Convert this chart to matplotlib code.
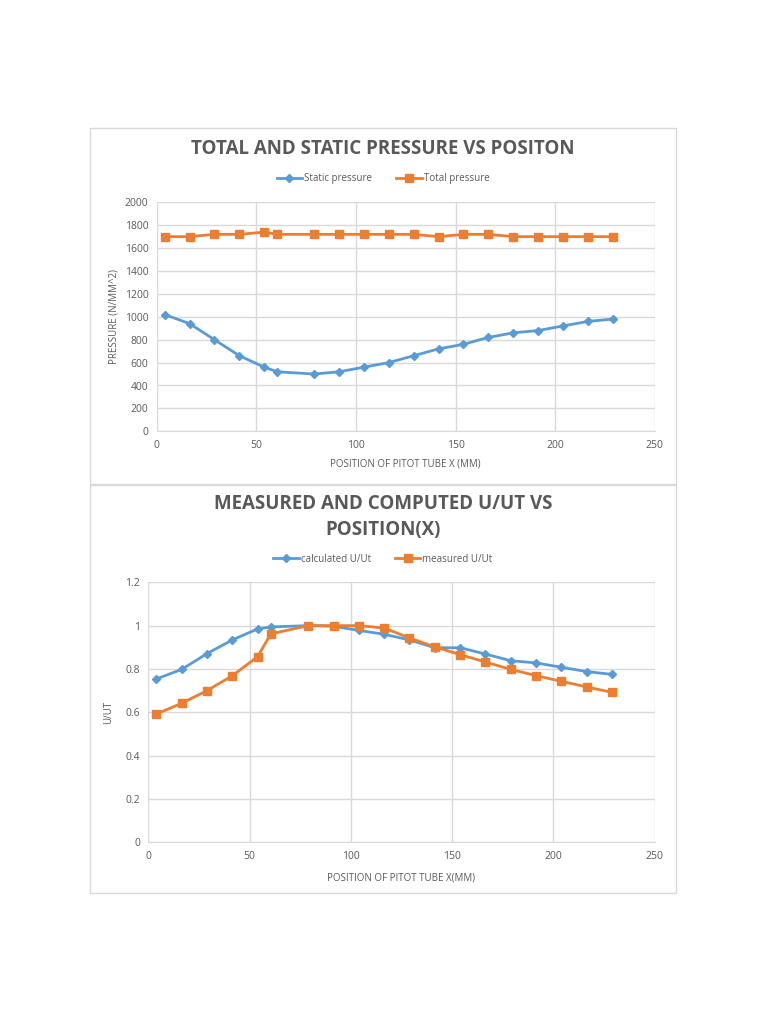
import matplotlib
matplotlib.use('Agg')
from matplotlib import pyplot as plt
from matplotlib.patches import Rectangle

# Position of pitot tube (mm)
position = [4, 16.5, 29, 41.5, 54, 60.5, 79, 91.5, 104, 116.5,
            129, 141.5, 154, 166.5, 179, 191.5, 204, 216.5, 229]

# Top chart
static_pressure = [1020, 940, 800, 660, 560, 520, 500, 520, 560, 600,
                   660, 720, 760, 820, 860, 880, 920, 960, 980]
total_pressure = [1700, 1700, 1720, 1720, 1740, 1720, 1720, 1720, 1720, 1720,
                  1720, 1700, 1720, 1720, 1700, 1700, 1700, 1700, 1700]

# Bottom chart
calculated_u = [0.754, 0.798, 0.871, 0.934, 0.985, 0.994, 1.0, 0.997, 0.978, 0.96,
                0.934, 0.898, 0.898, 0.869, 0.838, 0.828, 0.808, 0.788, 0.775]
measured_u = [0.592, 0.642, 0.700, 0.769, 0.857, 0.962, 1.0, 1.0, 1.0, 0.989,
              0.943, 0.902, 0.866, 0.832, 0.798, 0.769, 0.743, 0.717, 0.692]

BLUE = '#5B9BD5'
ORANGE = '#ED7D31'
TEXT = '#595959'
GRID = '#D9D9D9'

plt.rcParams['font.family'] = ['Open Sans', 'DejaVu Sans']

W, H = 768, 1024
fig = plt.figure(figsize=(W / 100, H / 100), dpi=100)


def px_box(x0, y0, x1, y1):
    """Pixel box (top-left origin) -> figure fraction rect."""
    return [x0 / W, 1 - y1 / H, (x1 - x0) / W, (y1 - y0) / H]


def fy(y):
    return 1 - y / H


# chart area borders
for y0, y1 in [(128, 484), (485, 893)]:
    fig.patches.append(Rectangle((90 / W, fy(y1)), 586 / W, (y1 - y0) / H,
                                 transform=fig.transFigure, fill=False,
                                 edgecolor=GRID, linewidth=1.0))


def style_axes(ax, ylim, yticks, yfmt):
    ax.set_xlim(0, 250)
    ax.set_ylim(*ylim)
    ax.set_xticks(range(0, 251, 50))
    ax.set_yticks(yticks)
    ax.set_yticklabels([yfmt(v) for v in yticks])
    ax.grid(True, color=GRID, linewidth=1.0)
    ax.set_axisbelow(True)
    for side in ['top', 'right', 'left']:
        ax.spines[side].set_visible(False)
    ax.spines['bottom'].set_color(GRID)
    ax.tick_params(length=0, labelsize=7.5, labelcolor=TEXT, pad=6)


# Top chart
ax1 = fig.add_axes(px_box(156.7, 202.3, 654.7, 431.3))
l1, = ax1.plot(position, static_pressure, color=BLUE, marker='D',
               markersize=4.5, linewidth=2, label='Static pressure')
l2, = ax1.plot(position, total_pressure, color=ORANGE, marker='s',
               markersize=6, linewidth=2, label='Total pressure')
style_axes(ax1, (0, 2000), range(0, 2001, 200), lambda v: str(v))
ax1.set_xlabel('POSITION OF PITOT TUBE X (MM)', fontsize=7, color=TEXT,
               labelpad=6)
ax1.set_ylabel('PRESSURE (N/MM^2)', fontsize=7, color=TEXT, labelpad=4)
fig.text(383 / W, fy(149), 'TOTAL AND STATIC PRESSURE VS POSITON',
         ha='center', va='center', fontsize=13.5, fontweight='bold',
         color=TEXT)
fig.legend(handles=[l1, l2], loc='center', bbox_to_anchor=(383 / W, fy(179)),
           ncol=2, frameon=False, fontsize=7, handlelength=2.6,
           columnspacing=2.5, handletextpad=0.2, labelcolor=TEXT)

# Bottom chart
ax2 = fig.add_axes(px_box(148.3, 582.3, 654.5, 842.3))
l3, = ax2.plot(position, calculated_u, color=BLUE, marker='D',
               markersize=4.5, linewidth=2, label='calculated U/Ut')
l4, = ax2.plot(position, measured_u, color=ORANGE, marker='s',
               markersize=6, linewidth=2, label='measured U/Ut')
style_axes(ax2, (0, 1.2), [0, 0.2, 0.4, 0.6, 0.8, 1.0, 1.2],
           lambda v: '%g' % v)
ax2.set_xlabel('POSITION OF PITOT TUBE X(MM)', fontsize=7, color=TEXT,
               labelpad=8)
ax2.set_ylabel('U/UT', fontsize=7, color=TEXT, labelpad=8)
fig.text(383 / W, fy(517), 'MEASURED AND COMPUTED U/UT VS\nPOSITION(X)',
         ha='center', va='center', fontsize=13.5, fontweight='bold',
         color=TEXT, linespacing=1.4)
fig.legend(handles=[l3, l4], loc='center', bbox_to_anchor=(383 / W, fy(559)),
           ncol=2, frameon=False, fontsize=7, handlelength=2.6,
           columnspacing=2.5, handletextpad=0.2, labelcolor=TEXT)

fig.savefig('out.png', dpi=100)
